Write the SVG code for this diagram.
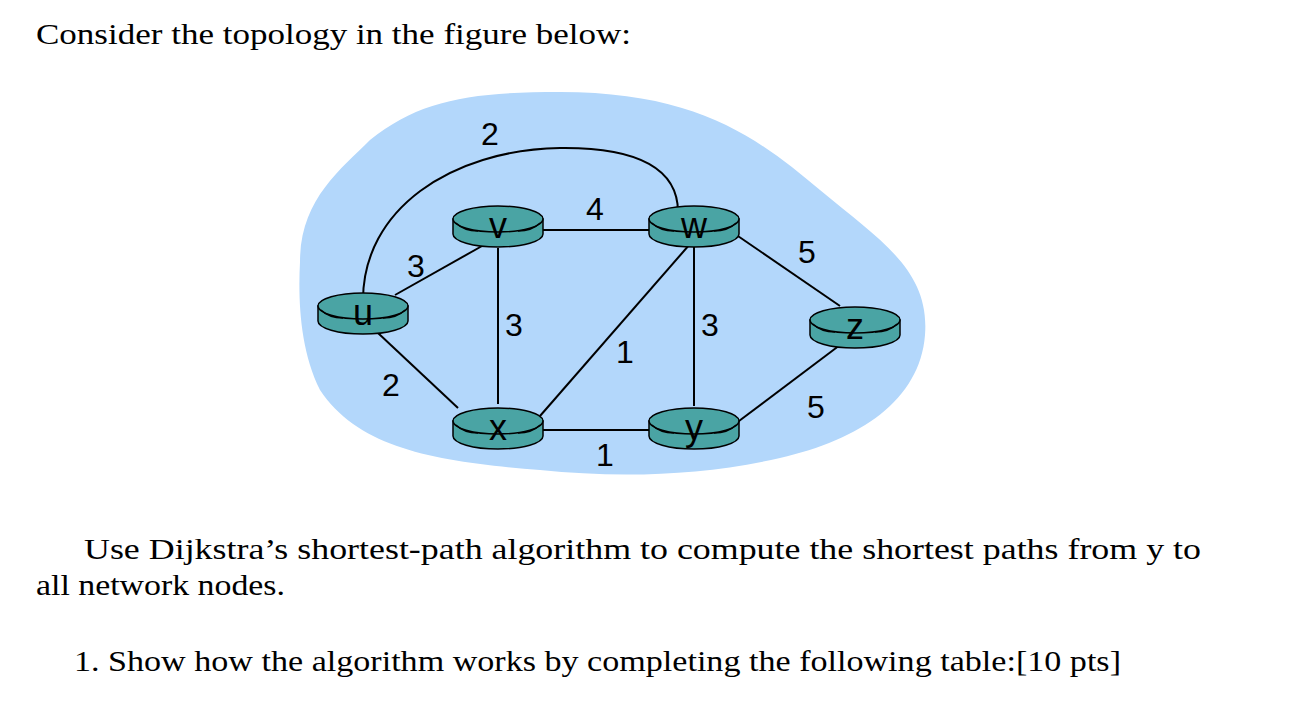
<svg xmlns="http://www.w3.org/2000/svg" width="1294" height="704" viewBox="0 0 1294 704">
<style>
.t{font-family:"Liberation Serif",serif;font-size:29px;fill:#000}
.l{font-family:"Liberation Sans",Arial,sans-serif;font-size:32px;fill:#000}
.n{font-family:"Liberation Sans",Arial,sans-serif;font-size:36px;fill:#000;text-anchor:middle}
.r{fill:#4aa4a4;stroke:#000;stroke-width:1.5}
.e{stroke:#000;stroke-width:2;fill:none}
</style>
<defs>
<g id="rt">
<path class="r" d="M-45,-7 L-45,8 A45,13 0 0 0 45,8 L45,-7 Z"/>
<ellipse class="r" cx="0" cy="-7" rx="45" ry="13"/>
<path d="M-42,-3 Q-34,5 -20,5 M20,5 Q34,5 42,-3" stroke="#000" stroke-width="1.5" fill="none"/>
</g>
</defs>
<rect width="1294" height="704" fill="#fff"/>
<text class="t" x="36" y="44" textLength="595" lengthAdjust="spacingAndGlyphs">Consider the topology in the figure below:</text>
<path d="M300,262 C300,200 340,170 370,140 C420,100 470,92 560,92 C700,92 760,140 820,190 C880,240 930,270 925,335 C920,400 860,440 780,458 C700,476 620,478 540,470 C440,462 360,450 320,390 C300,350 298,300 300,262 Z" fill="#b3d7fb"/>
<g id="connectors">
<path class="e" d="M363,300 C363,210 450,150 560,148 C640,147 678,170 678,212"/>
<line class="e" x1="395" y1="295" x2="482" y2="246"/>
<line class="e" x1="498" y1="248" x2="498" y2="404"/>
<line class="e" x1="378" y1="333" x2="458" y2="408"/>
<line class="e" x1="543" y1="230" x2="650" y2="230"/>
<line class="e" x1="690" y1="244" x2="540" y2="416"/>
<line class="e" x1="543" y1="430" x2="650" y2="430"/>
<line class="e" x1="694" y1="244" x2="694" y2="406"/>
<line class="e" x1="735" y1="234" x2="840" y2="306"/>
<line class="e" x1="735" y1="424" x2="840" y2="345"/>
</g>
<g id="edge-labels">
<text class="l" x="481" y="145">2</text>
<text class="l" x="586" y="220">4</text>
<text class="l" x="407" y="277">3</text>
<text class="l" x="505" y="336">3</text>
<text class="l" x="616" y="363">1</text>
<text class="l" x="701" y="336">3</text>
<text class="l" x="798" y="263">5</text>
<text class="l" x="382" y="396">2</text>
<text class="l" x="807" y="418">5</text>
<text class="l" x="596" y="466">1</text>
</g>
<g id="node-u"><use href="#rt" x="363" y="313"/><text class="n" x="363" y="325">u</text></g>
<g id="node-v"><use href="#rt" x="498" y="226"/><text class="n" x="498" y="238">v</text></g>
<g id="node-w"><use href="#rt" x="694" y="226"/><text class="n" x="694" y="238">w</text></g>
<g id="node-x"><use href="#rt" x="498" y="428"/><text class="n" x="498" y="440">x</text></g>
<g id="node-y"><use href="#rt" x="694" y="428"/><text class="n" x="694" y="440">y</text></g>
<g id="node-z"><use href="#rt" x="855" y="327"/><text class="n" x="855" y="339">z</text></g>
<text class="t" x="84" y="559" textLength="1117" lengthAdjust="spacingAndGlyphs">Use Dijkstra’s shortest-path algorithm to compute the shortest paths from y to</text>
<text class="t" x="36" y="595" textLength="249" lengthAdjust="spacingAndGlyphs">all network nodes.</text>
<text class="t" x="74" y="671" textLength="1047" lengthAdjust="spacingAndGlyphs">1. Show how the algorithm works by completing the following table:[10 pts]</text>
</svg>
